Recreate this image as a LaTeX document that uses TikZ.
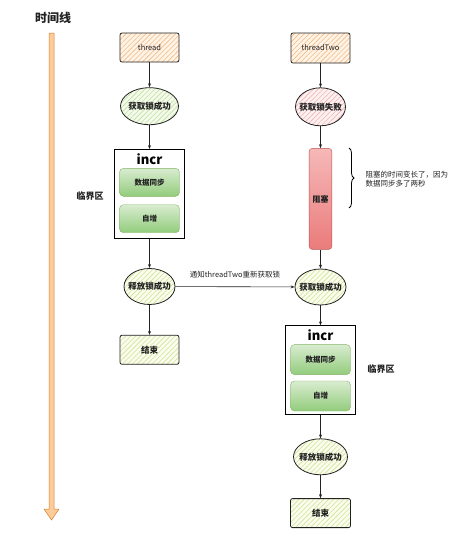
\documentclass[tikz,border=0pt]{standalone}
\usepackage{fontspec}
\setmainfont{Noto Sans CJK SC}
\usetikzlibrary{positioning,shapes.geometric,patterns.meta,decorations.pathreplacing,arrows.meta}

\definecolor{ink}{HTML}{222222}
\definecolor{lineorange}{HTML}{F0BC88}
\definecolor{lightorange}{HTML}{FFF3E6}
\definecolor{linegreen}{HTML}{C2DFA0}
\definecolor{lightgreen}{HTML}{F4FAEC}
\definecolor{linepink}{HTML}{F0B4B4}
\definecolor{lightpink}{HTML}{FDF0F0}
\definecolor{lineyellow}{HTML}{D2E396}
\definecolor{lightyellow}{HTML}{FAFCEE}
\definecolor{blocktop}{HTML}{F6B8B8}
\definecolor{blockbot}{HTML}{EB7B7B}
\definecolor{blockline}{HTML}{B85450}
\definecolor{greentop}{HTML}{D9ECD0}
\definecolor{greenbot}{HTML}{92CC7C}
\definecolor{greenline}{HTML}{82B366}

\tikzset{
  hatch/.style 2 args={preaction={fill=#1}, pattern={Lines[angle=45,distance=3.5pt,line width=0.6pt]}, pattern color=#2},
  threadbox/.style={draw=ink, line width=0.8pt, rounded corners=2pt, minimum width=59pt, minimum height=29pt, font=\fontsize{7.5}{9}\selectfont, text=ink},
  stepnode/.style={ellipse, draw=ink, line width=0.8pt, inner xsep=-6pt, inner ysep=0pt, minimum width=#1, minimum height=37pt, font=\bfseries\fontsize{8.5}{10}\selectfont, text=ink},
  endbox/.style={draw=ink, line width=0.8pt, rounded corners=2pt, minimum width=60pt, minimum height=29pt, font=\bfseries\fontsize{8.5}{10}\selectfont, text=ink, hatch={lightyellow}{lineyellow}},
  incrbox/.style={draw=black, line width=1pt, minimum width=70pt, minimum height=89pt,
    label={[anchor=north, yshift=-1pt, font=\bfseries\fontsize{13}{14}\selectfont]north:incr}},
  greenbox/.style={draw=greenline, rounded corners=4pt, minimum width=60pt, minimum height=#1,
    top color=greentop, bottom color=greenbot, font=\bfseries\fontsize{7.5}{9}\selectfont, text=ink},
  flow/.style={-{Stealth[length=4pt,width=3pt]}, ink, line width=0.6pt},
  zone/.style={font=\bfseries\fontsize{9}{10}\selectfont, text=ink}
}

\begin{document}
\begin{tikzpicture}[x=1pt, y=-1pt]
    \useasboundingbox (0,0) rectangle (474,541);

    % time line
    \node (title) [font=\bfseries\fontsize{12}{13}\selectfont, text=ink] at (53,18) {时间线};
    \fill [fill=orange!40, draw=brown!80!orange, line width=0.5pt] (49,33) -- (54,33) -- (54,509) -- (59,509) -- (51.5,520) -- (44,509) -- (49,509) -- cycle;

    % thread
    \node (thread) [threadbox, hatch={lightorange}{lineorange}] at (149.5,47.5) {thread};
    \node (get1) [stepnode=58pt, hatch={lightgreen}{linegreen}, below=25pt of thread] {获取锁成功};
    \node (incr1) [incrbox, below=24pt of get1] {};
    \node (sync1) [greenbox=28pt, below=19pt of incr1.north] {数据同步};
    \node (inc1) [greenbox=28pt, below=8pt of sync1] {自增};
    \node (rel1) [stepnode=51pt, minimum height=36pt, hatch={lightyellow}{lineyellow}, below=29pt of incr1] {释放锁成功};
    \node (end1) [endbox, minimum width=59pt, below=30pt of rel1] {结束};
    \node (zone1) [zone] at (90,196) {临界区};

    % threadTwo
    \node (thread2) [threadbox, minimum height=30pt, hatch={lightorange}{lineorange}] at (320.5,48) {threadTwo};
    \node (fail) [stepnode=50pt, minimum height=38pt, hatch={lightpink}{linepink}, below=24pt of thread2] {获取锁失败};
    \node (block) [draw=blockline, rounded corners=3pt, minimum width=22pt, minimum height=101pt,
        top color=blocktop, bottom color=blockbot, font=\bfseries\fontsize{8}{9}\selectfont, text=ink,
        below=22pt of fail] {阻塞};
    \node (get2) [stepnode=51pt, minimum height=36pt, hatch={lightyellow}{lineyellow}, below=19pt of block] {获取锁成功};
    \node (incr2) [incrbox, below=20pt of get2] {};
    \node (sync2) [greenbox=30pt, below=19pt of incr2.north] {数据同步};
    \node (inc2) [greenbox=30pt, below=6pt of sync2] {自增};
    \node (rel2) [stepnode=54pt, minimum height=36pt, hatch={lightyellow}{lineyellow}, below=23pt of incr2] {释放锁成功};
    \node (end2) [endbox, below=23pt of rel2] {结束};
    \node (zone2) [zone] at (381,369) {临界区};

    % block note
    \coordinate (bracetop) at (349,148);
    \coordinate (bracebot) at (349,208);
    \draw [decorate, decoration={brace, amplitude=5pt}, line width=0.8pt] (bracetop) -- (bracebot);
    \node (note) [anchor=west, align=left, font=\fontsize{7.5}{9.5}\selectfont, text=ink] at (362,179) {阻塞的时间变长了，因为\\数据同步多了两秒};

    \draw [flow] (thread) -- (get1);
    \draw [flow] (get1) -- (incr1);
    \draw [flow] (incr1) -- (rel1);
    \draw [flow] (rel1) -- (end1);
    \draw [flow] (thread2) -- (fail);
    \draw [flow] (fail) -- (block);
    \draw [flow] (block) -- (get2);
    \draw [flow] (get2) -- (incr2);
    \draw [flow] (incr2) -- (rel2);
    \draw [flow] (rel2) -- (end2);
    \draw [flow] (rel1) to node [above=5pt, font=\fontsize{7.5}{9}\selectfont, text=ink] {通知threadTwo重新获取锁} (get2);
\end{tikzpicture}
\end{document}
